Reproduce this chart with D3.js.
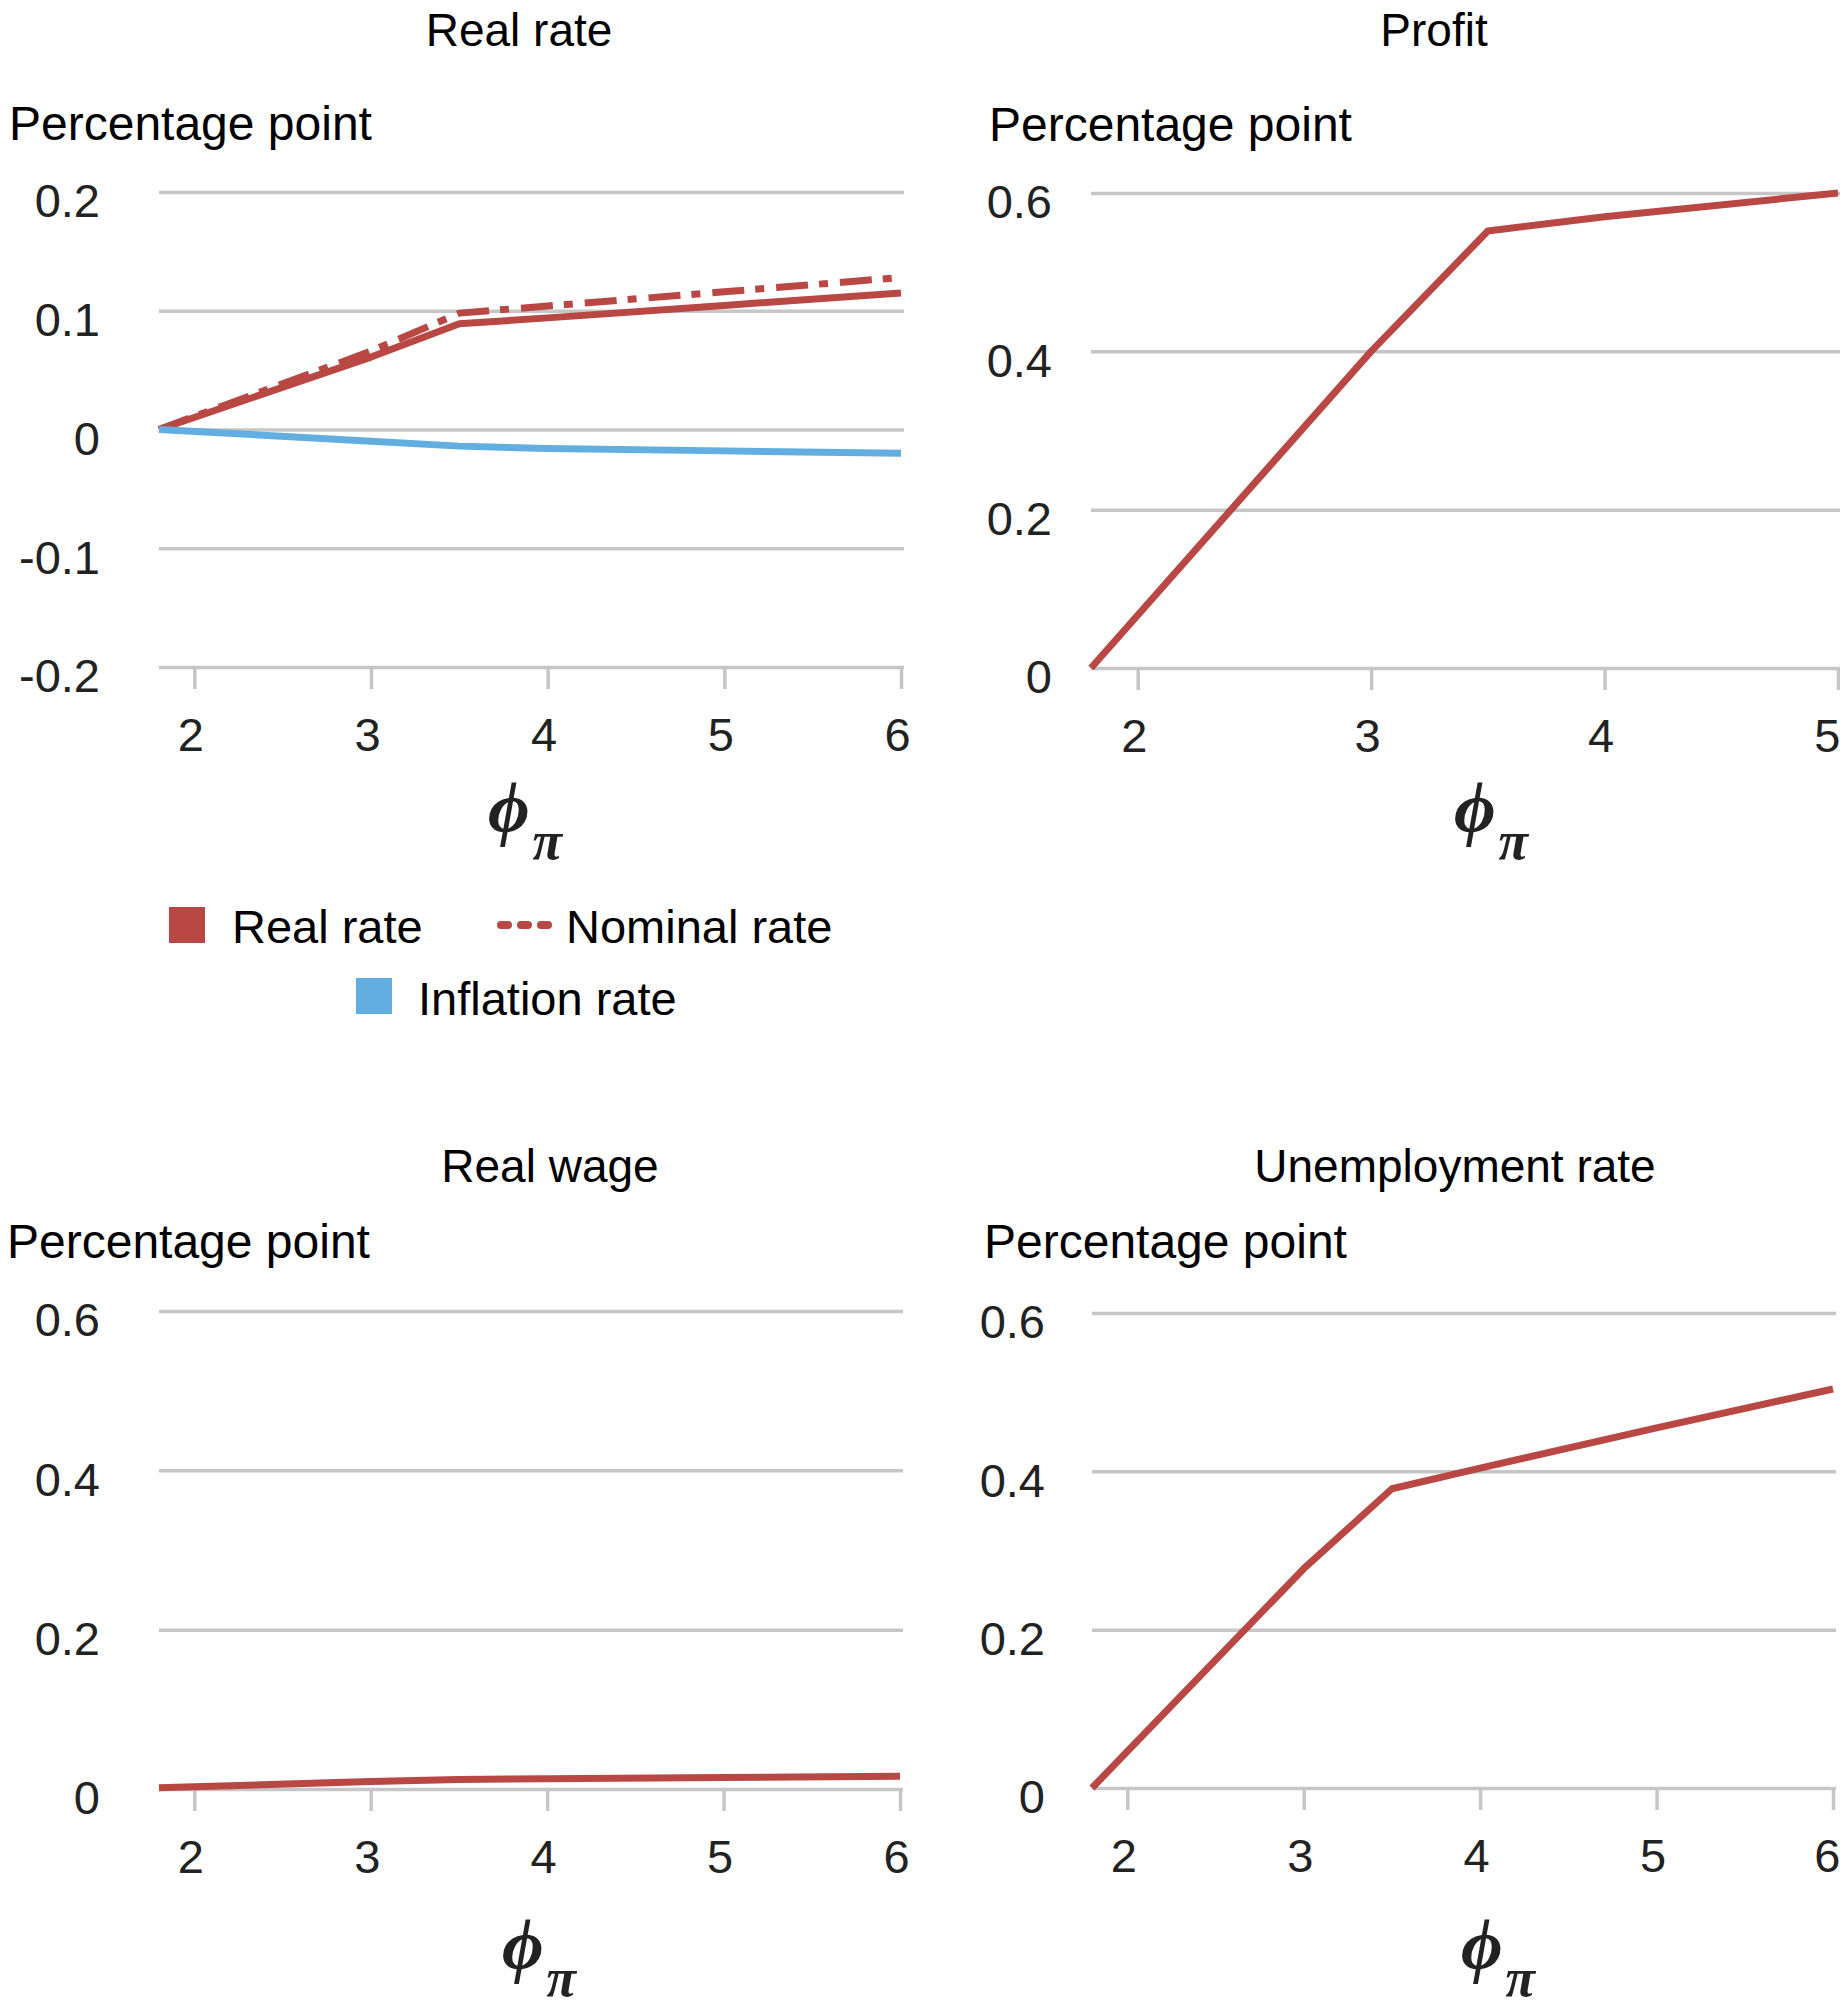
<!DOCTYPE html>
<html>
<head>
<meta charset="utf-8">
<script src="https://cdn.jsdelivr.net/npm/d3@7"></script>
<style>
  body { margin: 0; background: #fff; }
  svg { display: block; font-family: 'Liberation Sans', Arial, Helvetica, sans-serif; }
</style>
</head>
<body>
<svg width="1840" height="2011"></svg>
<script>
// phi_pi values along the x axis
const phi = [1.8, 3, 3.5, 4, 5, 6];
const phiProfit = [1.8, 3, 3.5, 4, 5];

// responses, percentage point
const realRate = [0, 0.061, 0.089, 0.094, 0.1045, 0.115];
const nominalRate = [0, 0.066, 0.098, 0.104, 0.116, 0.128];
const inflationRate = [0, -0.0098, -0.014, -0.016, -0.018, -0.02];
const profit = [0, 0.4, 0.552, 0.57, 0.6];
const realWage = [0.0015, 0.0095, 0.012, 0.013, 0.0145, 0.016];
const unemployment = [0, 0.277, 0.378, 0.404, 0.455, 0.504];

// tick labels
const xTicks = [2, 3, 4, 5, 6];
const xTicksProfit = [2, 3, 4, 5];
const yTicksRate = [0.2, 0.1, 0, -0.1, -0.2];
const yTicksLevel = [0.6, 0.4, 0.2, 0];

const titles = ['Real rate', 'Profit', 'Real wage', 'Unemployment rate'];
const unitLabel = 'Percentage point';
const legendNames = ['Real rate', 'Nominal rate', 'Inflation rate'];

const red = '#b94744';
const blue = '#62aee0';
const gridColor = '#c6c6c6';

const svg = d3.select('svg');
svg.append('rect').attr('width', 1840).attr('height', 2011).attr('fill', '#fff');

// one entry per small chart: layout + which arrays to draw
const panels = [
  {
    title: titles[0], xr: [159, 901], yr: [667, 192], xd: [1.8, 6], yd: [-0.2, 0.2],
    xt: xTicks, yt: yTicksRate, labelRight: 100,
    titleX: 519, titleY: 46, unitX: 9, unitY: 140, phiX: 525, phiY: 832,
    series: [
      { x: phi, y: nominalRate, color: red, dash: '32,11,9,12' },
      { x: phi, y: realRate, color: red },
      { x: phi, y: inflationRate, color: blue }
    ]
  },
  {
    title: titles[1], xr: [1091, 1838], yr: [668, 193], xd: [1.8, 5], yd: [0, 0.6],
    xt: xTicksProfit, yt: yTicksLevel, labelRight: 1052,
    titleX: 1434, titleY: 46, unitX: 989, unitY: 141, phiX: 1491, phiY: 832,
    series: [{ x: phiProfit, y: profit, color: red }]
  },
  {
    title: titles[2], xr: [159, 900], yr: [1789, 1311], xd: [1.8, 6], yd: [0, 0.6],
    xt: xTicks, yt: yTicksLevel, labelRight: 100,
    titleX: 550, titleY: 1182, unitX: 7, unitY: 1258, phiX: 539, phiY: 1969,
    series: [{ x: phi, y: realWage, color: red }]
  },
  {
    title: titles[3], xr: [1092, 1833], yr: [1788, 1313], xd: [1.8, 6], yd: [0, 0.6],
    xt: xTicks, yt: yTicksLevel, labelRight: 1045,
    titleX: 1455, titleY: 1182, unitX: 984, unitY: 1258, phiX: 1498, phiY: 1969,
    series: [{ x: phi, y: unemployment, color: red }]
  }
];

panels.forEach((p) => {
  const x = d3.scaleLinear().domain(p.xd).range(p.xr);
  const y = d3.scaleLinear().domain(p.yd).range(p.yr);
  const g = svg.append('g');

  // title and unit label
  g.append('text')
    .attr('x', p.titleX).attr('y', p.titleY)
    .attr('text-anchor', 'middle')
    .attr('font-size', 46).attr('fill', '#000')
    .text(p.title);
  g.append('text')
    .attr('x', p.unitX).attr('y', p.unitY)
    .attr('font-size', 48).attr('fill', '#000')
    .text(unitLabel);

  // y axis: gridlines + labels (plain hyphen for negatives, as in the original)
  const yAxis = g.append('g')
    .attr('transform', `translate(${p.xr[0]},0)`)
    .call(d3.axisLeft(y).tickValues(p.yt).tickSize(-(p.xr[1] - p.xr[0] + 3))
      .tickPadding(p.xr[0] - p.labelRight).tickFormat((d) => String(+d.toFixed(1))));
  yAxis.select('.domain').remove();
  yAxis.selectAll('line').attr('stroke', gridColor).attr('stroke-width', 3.5);
  yAxis.selectAll('text')
    .attr('font-family', null).attr('font-size', 47).attr('fill', '#222')
    .attr('dy', '0.53em');

  // x axis: ticks below the bottom gridline
  const xAxis = g.append('g')
    .attr('transform', `translate(0,${p.yr[0]})`)
    .call(d3.axisBottom(x).tickValues(p.xt).tickSize(22).tickFormat(d3.format('d')));
  xAxis.select('.domain').remove();
  xAxis.selectAll('line').attr('stroke', gridColor).attr('stroke-width', 3.5);
  xAxis.selectAll('text')
    .attr('font-family', null).attr('font-size', 47).attr('fill', '#222')
    .attr('y', 84).attr('dy', 0)
    .attr('x', (d) => (x(d) > 1825 ? 1840 - x(d) : -4))
    .attr('text-anchor', (d) => (x(d) > 1825 ? 'end' : 'middle'));

  // lines
  const line = d3.line().x((d) => x(d[0])).y((d) => y(d[1]));
  p.series.forEach((s) => {
    g.append('path')
      .datum(d3.zip(s.x, s.y))
      .attr('d', line)
      .attr('fill', 'none')
      .attr('stroke', s.color)
      .attr('stroke-width', 7)
      .attr('stroke-linejoin', 'round')
      .attr('stroke-dasharray', s.dash || null);
  });

  // x axis label: phi sub pi
  const lab = g.append('text')
    .attr('x', p.phiX).attr('y', p.phiY)
    .attr('text-anchor', 'middle')
    .attr('font-family', "'Liberation Serif', 'DejaVu Serif', serif")
    .attr('font-weight', 'bold').attr('font-style', 'italic')
    .attr('fill', '#222');
  lab.append('tspan').attr('font-size', 72).text('\u03D5');
  lab.append('tspan').attr('font-size', 54).attr('dy', 27).attr('dx', 3).text('\u03C0');
});

// legend for the first chart
const legendItems = [
  { name: legendNames[0], kind: 'box', color: red, sx: 169, sy: 907, tx: 232, ty: 943 },
  { name: legendNames[1], kind: 'dash', color: red, sx: 501, sy: 925, tx: 566, ty: 943 },
  { name: legendNames[2], kind: 'box', color: blue, sx: 356, sy: 978, tx: 418, ty: 1015 }
];
const legend = svg.append('g').selectAll('g').data(legendItems).enter().append('g');
legend.filter((d) => d.kind === 'box').append('rect')
  .attr('x', (d) => d.sx).attr('y', (d) => d.sy)
  .attr('width', 36).attr('height', 36)
  .attr('fill', (d) => d.color);
legend.filter((d) => d.kind === 'dash').append('path')
  .attr('d', (d) => `M${d.sx},${d.sy}H${d.sx + 47}`)
  .attr('stroke', (d) => d.color)
  .attr('stroke-width', 8)
  .attr('stroke-linecap', 'round')
  .attr('stroke-dasharray', '7,13');
legend.append('text')
  .attr('x', (d) => d.tx).attr('y', (d) => d.ty)
  .attr('font-size', 47).attr('fill', '#000')
  .text((d) => d.name);
</script>
</body>
</html>
